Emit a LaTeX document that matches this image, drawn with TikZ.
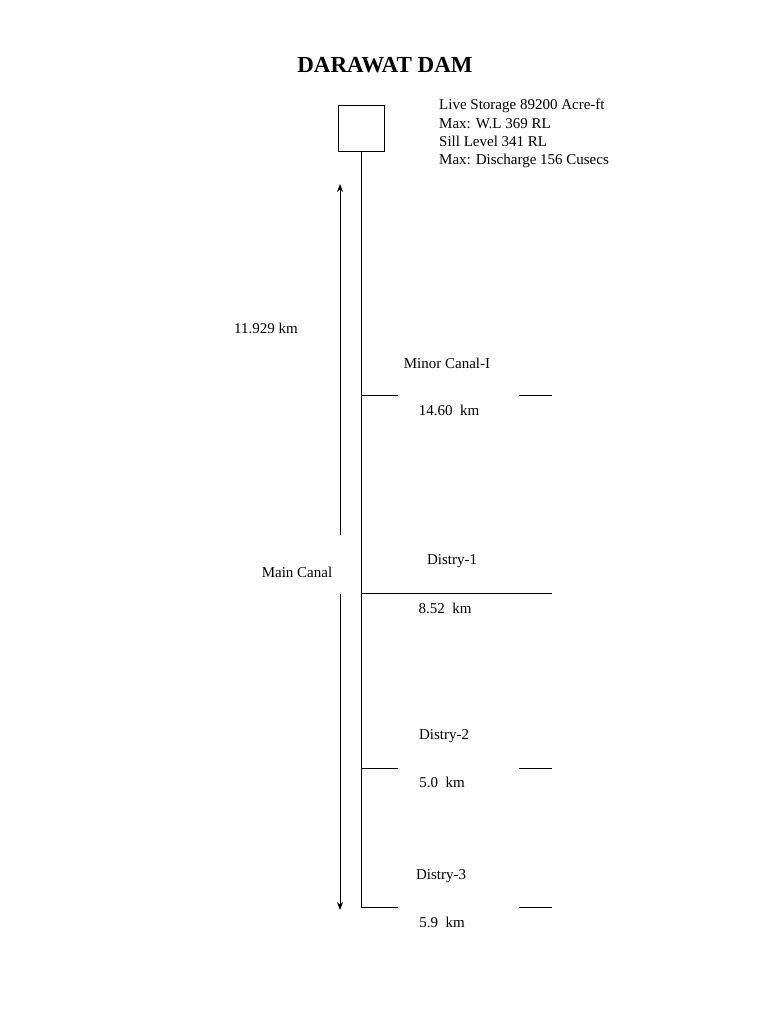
\documentclass[tikz,border=0pt]{standalone}
\usepackage{fontspec}
\setmainfont{Liberation Serif}
\usetikzlibrary{arrows.meta}
\begin{document}
\begin{tikzpicture}[x=1pt,y=-1pt,
  lbl/.style={font=\fontsize{15}{17}\selectfont,inner sep=0pt},
  ln/.style={line width=0.8pt}]
\useasboundingbox (0,0) rectangle (768,1024);
\node[font=\fontsize{23}{25}\selectfont\bfseries] (title) at (385,65) {DARAWAT DAM};
\node[draw,ln,minimum width=46pt,minimum height=46pt,inner sep=0pt] (dam) at (361,128) {};
\node[lbl,anchor=north west,align=left,font=\fontsize{15}{18.3}\selectfont] (info) at (439,99) {Live Storage 89200 Acre-ft\\Max: W.L 369 RL\\Sill Level 341 RL\\Max: Discharge 156 Cusecs};
\coordinate (end) at (361,907);
\draw[ln] (dam.south) -- (end);
\coordinate (a1) at (340,535); \coordinate (a2) at (340,184);
\coordinate (b1) at (340,594); \coordinate (b2) at (340,910);
\draw[ln,-{Stealth[length=8pt,width=6pt]}] (a1) -- (a2);
\draw[ln,-{Stealth[length=8pt,width=6pt]}] (b1) -- (b2);
\node[lbl] (len) at (266,328) {11.929 km};
\node[lbl] (mc) at (297,572) {Main Canal};
\foreach \y/\n in {395/m,768/d2,907/d3}{
  \coordinate (\n s) at (361,\y); \coordinate (\n a) at (398,\y);
  \coordinate (\n b) at (519,\y); \coordinate (\n e) at (552,\y);
  \draw[ln] (\n s) -- (\n a); \draw[ln] (\n b) -- (\n e);
}
\coordinate (d1s) at (361,593); \coordinate (d1e) at (552,593);
\draw[ln] (d1s) -- (d1e);
\node[lbl] (t1) at (447,363) {Minor Canal-I};
\node[lbl] (k1) at (449,410) {14.60\ \ km};
\node[lbl] (t2) at (452,561) {Distry-1};
\node[lbl] (k2) at (445,608) {8.52\ \ km};
\node[lbl] (t3) at (444,736) {Distry-2};
\node[lbl] (k3) at (442,782) {5.0\ \ km};
\node[lbl] (t4) at (441,876) {Distry-3};
\node[lbl] (k4) at (442,922) {5.9\ \ km};
\end{tikzpicture}
\end{document}
